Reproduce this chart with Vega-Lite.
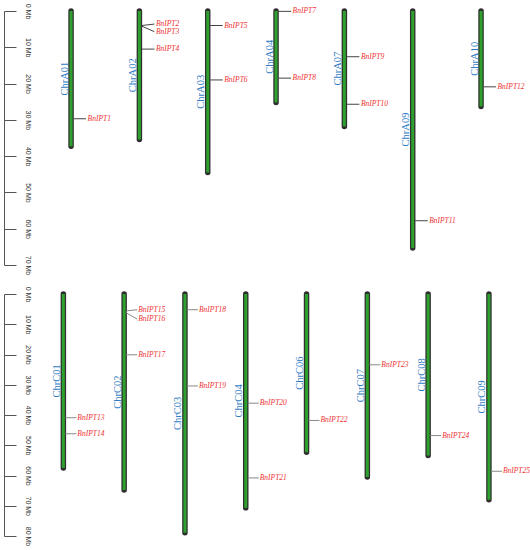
{
  "$schema": "https://vega.github.io/schema/vega-lite/v6.json",
  "background": "white",
  "padding": {"left": 3, "top": 3, "right": 0, "bottom": 0},
  "config": {"view": {"stroke": null}, "axis": {"labelOverlap": false}},
  "spacing": 29,
  "bounds": "flush",
  "datasets": {
    "chromA": [
      {"chr": "ChrA01", "len": 37.3, "mid": 18.65},
      {"chr": "ChrA02", "len": 35.4, "mid": 17.7},
      {"chr": "ChrA03", "len": 44.5, "mid": 22.25},
      {"chr": "ChrA04", "len": 25.2, "mid": 12.6},
      {"chr": "ChrA07", "len": 31.8, "mid": 15.9},
      {"chr": "ChrA09", "len": 65.3, "mid": 32.65},
      {"chr": "ChrA10", "len": 26.3, "mid": 13.15}
    ],
    "genesA": [
      {"gene": "BnIPT1", "chr": "ChrA01", "pos": 29.7, "lab": 29.7},
      {"gene": "BnIPT2", "chr": "ChrA02", "pos": 4.0, "lab": 3.6},
      {"gene": "BnIPT3", "chr": "ChrA02", "pos": 4.2, "lab": 5.7},
      {"gene": "BnIPT4", "chr": "ChrA02", "pos": 10.5, "lab": 10.5},
      {"gene": "BnIPT5", "chr": "ChrA03", "pos": 4.0, "lab": 4.0},
      {"gene": "BnIPT6", "chr": "ChrA03", "pos": 19.0, "lab": 19.0},
      {"gene": "BnIPT7", "chr": "ChrA04", "pos": 0.1, "lab": 0.1},
      {"gene": "BnIPT8", "chr": "ChrA04", "pos": 18.5, "lab": 18.5},
      {"gene": "BnIPT9", "chr": "ChrA07", "pos": 12.6, "lab": 12.6},
      {"gene": "BnIPT10", "chr": "ChrA07", "pos": 25.7, "lab": 25.7},
      {"gene": "BnIPT11", "chr": "ChrA09", "pos": 57.8, "lab": 57.8},
      {"gene": "BnIPT12", "chr": "ChrA10", "pos": 20.9, "lab": 20.9}
    ],
    "chromC": [
      {"chr": "ChrC01", "len": 57.5, "mid": 28.75},
      {"chr": "ChrC02", "len": 64.8, "mid": 32.4},
      {"chr": "ChrC03", "len": 78.9, "mid": 39.45},
      {"chr": "ChrC04", "len": 70.7, "mid": 35.35},
      {"chr": "ChrC06", "len": 52.3, "mid": 26.15},
      {"chr": "ChrC07", "len": 60.5, "mid": 30.25},
      {"chr": "ChrC08", "len": 53.4, "mid": 26.7},
      {"chr": "ChrC09", "len": 68.0, "mid": 34.0}
    ],
    "genesC": [
      {"gene": "BnIPT13", "chr": "ChrC01", "pos": 40.9, "lab": 40.9},
      {"gene": "BnIPT14", "chr": "ChrC01", "pos": 46.2, "lab": 46.2},
      {"gene": "BnIPT15", "chr": "ChrC02", "pos": 5.6, "lab": 5.2},
      {"gene": "BnIPT16", "chr": "ChrC02", "pos": 6.2, "lab": 8.3},
      {"gene": "BnIPT17", "chr": "ChrC02", "pos": 20.1, "lab": 20.1},
      {"gene": "BnIPT18", "chr": "ChrC03", "pos": 5.2, "lab": 5.2},
      {"gene": "BnIPT19", "chr": "ChrC03", "pos": 30.4, "lab": 30.4},
      {"gene": "BnIPT20", "chr": "ChrC04", "pos": 36.1, "lab": 36.1},
      {"gene": "BnIPT21", "chr": "ChrC04", "pos": 60.8, "lab": 60.8},
      {"gene": "BnIPT22", "chr": "ChrC06", "pos": 41.8, "lab": 41.8},
      {"gene": "BnIPT23", "chr": "ChrC07", "pos": 23.4, "lab": 23.4},
      {"gene": "BnIPT24", "chr": "ChrC08", "pos": 46.8, "lab": 46.8},
      {"gene": "BnIPT25", "chr": "ChrC09", "pos": 58.6, "lab": 58.6}
    ]
  },
  "vconcat": [
    {
      "width": 526,
      "height": 254,
      "layer": [
        {
          "data": {"name": "chromA"},
          "mark": {"type": "rule", "stroke": "#2f2f2f", "strokeWidth": 5.5, "strokeCap": "round"},
          "encoding": {
            "x": {"field": "chr", "type": "nominal", "sort": null, "axis": null,
                  "scale": {"type": "point", "padding": 0.849, "align": 0.578}},
            "y": {"field": "len", "type": "quantitative",
                  "scale": {"domain": [0, 70], "reverse": true, "nice": false, "zero": false},
                  "axis": {"title": null, "orient": "left", "values": [0, 10, 20, 30, 40, 50, 60, 70],
                           "tickCount": 8, "grid": false, "domainColor": "#555555", "tickColor": "#555555",
                           "tickSize": -12, "labelPadding": -8.5, "labelAngle": 90,
                           "labelAlign": "center", "labelBaseline": "bottom", "labelOverlap": false,
                           "labelFont": "Liberation Sans", "labelFontSize": 7, "labelColor": "#333333",
                           "labelExpr": "datum.value + ' Mb'"}},
            "y2": {"datum": 0}
          }
        },
        {
          "data": {"name": "chromA"},
          "mark": {"type": "rule", "stroke": "#2da02d", "strokeWidth": 3, "strokeCap": "butt"},
          "encoding": {
            "x": {"field": "chr", "type": "nominal", "sort": null},
            "y": {"field": "len", "type": "quantitative"},
            "y2": {"datum": 0}
          }
        },
        {
          "data": {"name": "chromA"},
          "mark": {"type": "text", "angle": 270, "dy": -6.5, "align": "center", "baseline": "middle",
                   "font": "Liberation Serif", "fontSize": 10.5, "color": "#2e7bc4"},
          "encoding": {
            "x": {"field": "chr", "type": "nominal", "sort": null},
            "y": {"field": "mid", "type": "quantitative"},
            "text": {"field": "chr"}
          }
        },
        {
          "data": {"name": "genesA"},
          "mark": {"type": "rule", "stroke": "#444444", "strokeWidth": 1, "xOffset": 2.5, "x2Offset": 15},
          "encoding": {
            "x": {"field": "chr", "type": "nominal", "sort": null},
            "x2": {"field": "chr"},
            "y": {"field": "pos", "type": "quantitative"},
            "y2": {"field": "lab"}
          }
        },
        {
          "data": {"name": "genesA"},
          "mark": {"type": "text", "dx": 16.5, "align": "left", "baseline": "middle",
                   "font": "Liberation Serif", "fontStyle": "italic", "fontSize": 7.5, "color": "#ee3333"},
          "encoding": {
            "x": {"field": "chr", "type": "nominal", "sort": null},
            "y": {"field": "lab", "type": "quantitative"},
            "text": {"field": "gene"}
          }
        }
      ]
    },
    {
      "width": 526,
      "height": 242,
      "layer": [
        {
          "data": {"name": "chromC"},
          "mark": {"type": "rule", "stroke": "#2f2f2f", "strokeWidth": 5.5, "strokeCap": "round"},
          "encoding": {
            "x": {"field": "chr", "type": "nominal", "sort": null, "axis": null,
                  "scale": {"type": "point", "padding": 0.826, "align": 0.591}},
            "y": {"field": "len", "type": "quantitative",
                  "scale": {"domain": [0, 80], "reverse": true, "nice": false, "zero": false},
                  "axis": {"title": null, "orient": "left", "values": [0, 10, 20, 30, 40, 50, 60, 70, 80],
                           "tickCount": 9, "grid": false, "domainColor": "#555555", "tickColor": "#555555",
                           "tickSize": -12, "labelPadding": -8.5, "labelAngle": 90,
                           "labelAlign": "center", "labelBaseline": "bottom", "labelOverlap": false,
                           "labelFont": "Liberation Sans", "labelFontSize": 7, "labelColor": "#333333",
                           "labelExpr": "datum.value + ' Mb'"}},
            "y2": {"datum": 0}
          }
        },
        {
          "data": {"name": "chromC"},
          "mark": {"type": "rule", "stroke": "#2da02d", "strokeWidth": 3, "strokeCap": "butt"},
          "encoding": {
            "x": {"field": "chr", "type": "nominal", "sort": null},
            "y": {"field": "len", "type": "quantitative"},
            "y2": {"datum": 0}
          }
        },
        {
          "data": {"name": "chromC"},
          "mark": {"type": "text", "angle": 270, "dy": -6.5, "align": "center", "baseline": "middle",
                   "font": "Liberation Serif", "fontSize": 10.5, "color": "#2e7bc4"},
          "encoding": {
            "x": {"field": "chr", "type": "nominal", "sort": null},
            "y": {"field": "mid", "type": "quantitative"},
            "text": {"field": "chr"}
          }
        },
        {
          "data": {"name": "genesC"},
          "mark": {"type": "rule", "stroke": "#888888", "strokeWidth": 1, "xOffset": 2, "x2Offset": 13},
          "encoding": {
            "x": {"field": "chr", "type": "nominal", "sort": null},
            "x2": {"field": "chr"},
            "y": {"field": "pos", "type": "quantitative"},
            "y2": {"field": "lab"}
          }
        },
        {
          "data": {"name": "genesC"},
          "mark": {"type": "text", "dx": 14, "align": "left", "baseline": "middle",
                   "font": "Liberation Serif", "fontStyle": "italic", "fontSize": 7.5, "color": "#ee3333"},
          "encoding": {
            "x": {"field": "chr", "type": "nominal", "sort": null},
            "y": {"field": "lab", "type": "quantitative"},
            "text": {"field": "gene"}
          }
        }
      ]
    }
  ]
}
